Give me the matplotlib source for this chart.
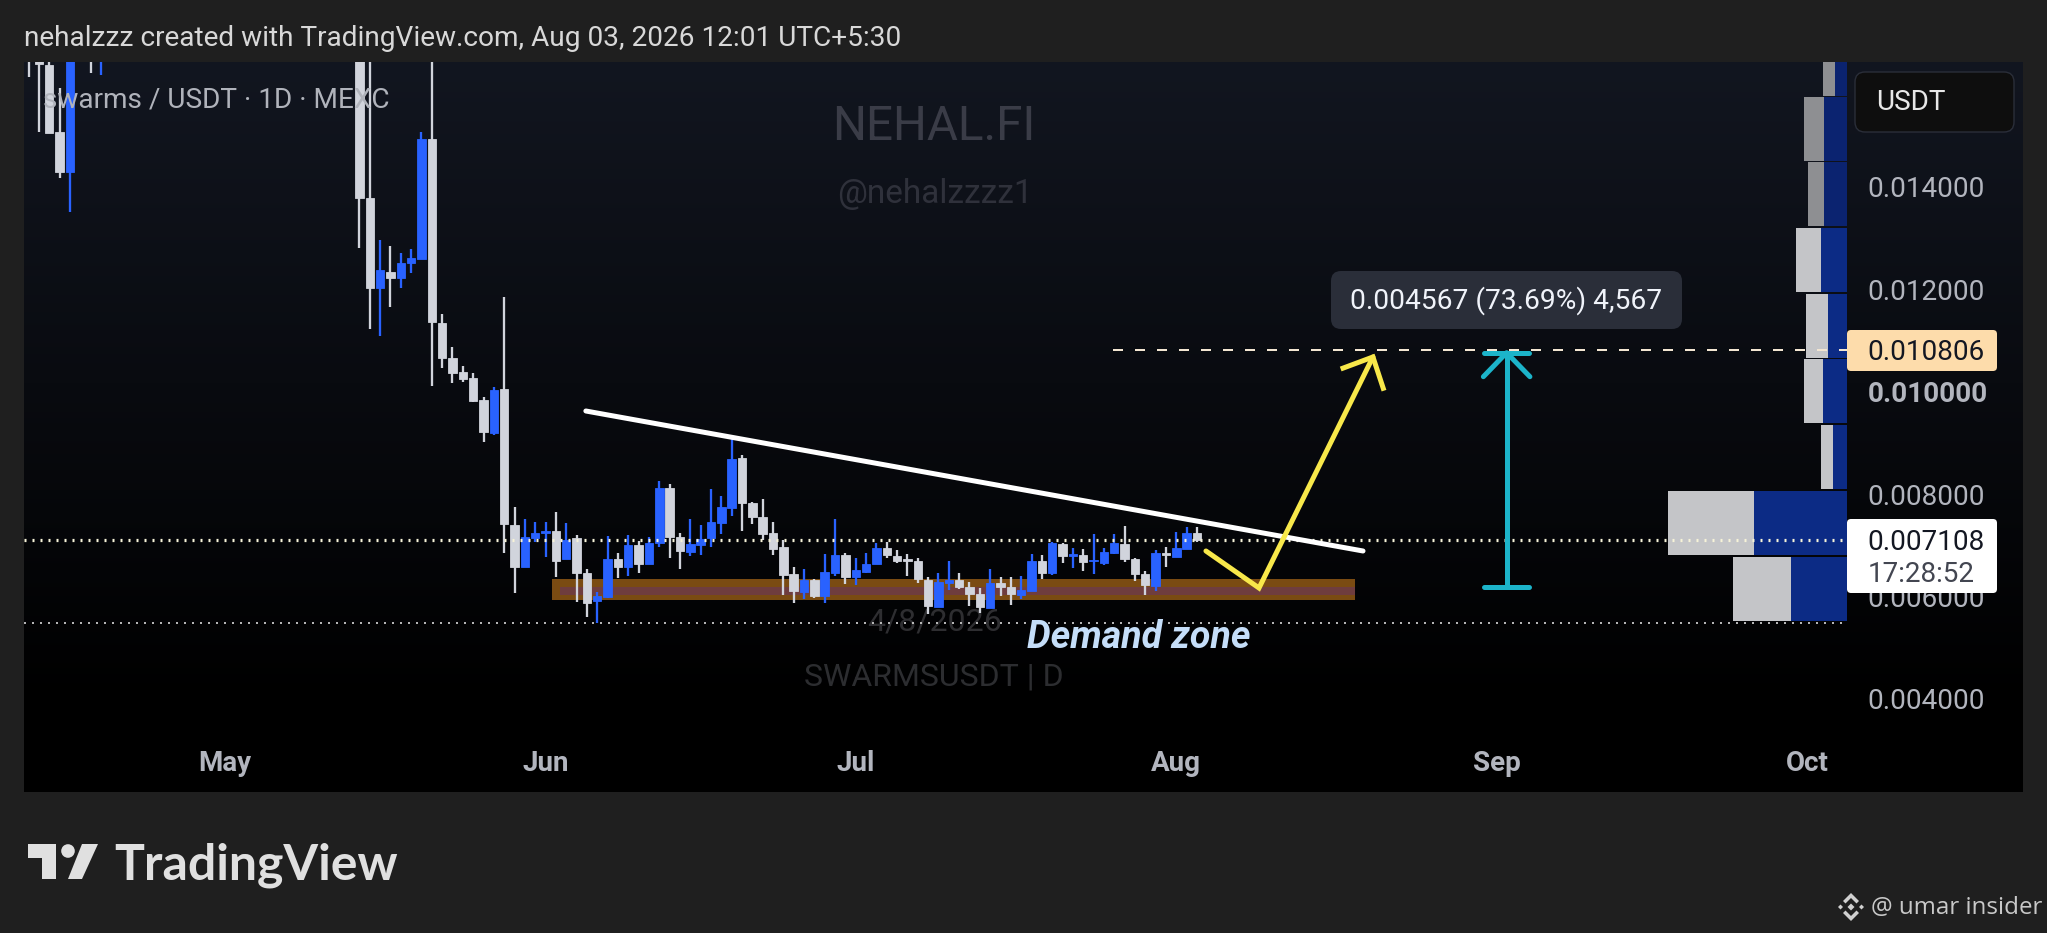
import numpy as np
import matplotlib
matplotlib.use("Agg")
import matplotlib.pyplot as plt
from matplotlib.patches import FancyBboxPatch, Polygon, Circle, Rectangle
from matplotlib.transforms import Affine2D

plt.rcParams['font.family'] = ['Roboto', 'DejaVu Sans']
plt.rcParams['lines.scale_dashes'] = False

# ---------- data (prices in millionths of a USDT, days counted from May 1) ----------
days = [-19, -18, -17, -16, -15, -13, -12] + list(range(13, 95))
opens = [18500, 17600, 16381, 15073, 14292, 19000, 18000,
         18000, 13784, 12026, 12339, 12222, 12515, 12593, 14936,
         11343, 10659, 10386, 10269, 9839, 9195, 10054, 7398, 6577, 7144,
         7241, 7280, 6733, 7144, 6460, 5913, 5992, 6733, 6577, 7007,
         6636, 7046, 8120, 7163, 6870, 7007, 7144, 7437, 7730, 8706,
         7827, 7554, 7241, 6968, 6441, 6089, 6323, 6011, 6460, 6812,
         6382, 6480, 6636, 6949, 6792, 6733, 6694, 6323, 5796, 6265,
         6323, 6187, 6050, 5777, 6265, 6187, 6031, 6109, 6694, 6460,
         7027, 6792, 6812, 6694, 6655, 6851, 7027, 6733, 6441, 6206,
         6851, 6773, 6929, 7241]
highs = [19000, 18500, 16800, 15932, 18000, 19500, 20000,
         19000, 17500, 12964, 12847, 12710, 12788, 15073, 18000,
         11519, 10874, 10503, 10366, 9898, 10093, 11851, 7749, 7515, 7456,
         7456, 7652, 7437, 7202, 6538, 6089, 7183, 6851, 7202, 7085,
         7163, 8257, 8198, 7241, 7515, 7398, 8101, 7964, 9136, 8765,
         7847, 7906, 7456, 7105, 6577, 6538, 6343, 6831, 7515, 6851,
         6753, 6851, 7046, 7066, 6909, 6831, 6753, 6382, 6460, 6694,
         6460, 6284, 6167, 6538, 6382, 6382, 6402, 6831, 6812, 7066,
         7046, 6949, 6929, 7222, 6949, 7222, 7378, 6753, 6499, 6909,
         6968, 7261, 7359, 7359]
lows = [16147, 15073, 15054, 14175, 13511, 16225, 16186,
        12807, 11226, 11089, 11655, 12026, 12319, 12593, 10112,
        10464, 10171, 10191, 9800, 9019, 9155, 6851, 6070, 6577, 7066,
        6773, 6382, 6733, 5894, 5601, 5484, 5972, 6363, 6402, 6460,
        6636, 6968, 6753, 6538, 6792, 6812, 6968, 7222, 7573, 7280,
        7417, 7105, 6812, 6031, 5874, 5953, 5972, 5874, 6402, 6245,
        6226, 6460, 6636, 6753, 6655, 6402, 6265, 5660, 5796, 6128,
        6148, 5816, 5679, 5777, 6011, 5835, 5953, 6109, 6343, 6421,
        6655, 6558, 6499, 6441, 6616, 6831, 6675, 6304, 6031, 6109,
        6577, 6773, 6929, 7066]
closes = [18000, 16401, 15054, 14292, 17200, 18000, 19000,
          13784, 12026, 12378, 12222, 12515, 12612, 14936, 11362,
          10659, 10366, 10249, 9819, 9214, 10034, 7417, 6577, 7163, 7241,
          7280, 6694, 7105, 6460, 5874, 6011, 6733, 6577, 7007, 6636,
          7046, 8120, 7163, 6890, 7027, 7124, 7456, 7749, 8687, 7827,
          7554, 7222, 6929, 6421, 6109, 6323, 6011, 6480, 6812, 6382,
          6519, 6636, 6949, 6812, 6694, 6694, 6343, 5816, 6284, 6323,
          6187, 6050, 5796, 6265, 6187, 6050, 6128, 6694, 6460, 7046,
          6792, 6831, 6675, 6714, 6870, 7046, 6733, 6441, 6226, 6851,
          6812, 6949, 7241, 7108]

vp_price_low = [5523, 6812, 8101, 9390, 10659, 11948, 13237, 14507, 15776]
vp_up = [56, 93, 14, 24, 19, 26, 23, 23, 12]
vp_down = [58, 86, 12, 19, 22, 25, 16, 20, 12]
vp_up_colors = ['#0c2b85'] * 6 + ['#0b2370'] * 3
vp_down_colors = ['#c4c5c8'] * 6 + ['#8e8f92'] * 3

last_price = 7108
low_price = 5484
target_price = 10806
price_ticks = [4000, 6000, 8000, 10000, 12000, 14000]
month_days = [0, 31, 61, 92, 123, 153]
month_labels = ['May', 'Jun', 'Jul', 'Aug', 'Sep', 'Oct']

trend_days = [34.9, 110.06]
trend_prices = [9624, 6890]
swing_days = [94.87, 100.0, 111.02]
swing_prices = [6890, 6167, 10679]
head_days = [107.9, 111.02, 112.09]
head_prices = [10444, 10679, 10021]
measure_day = 123.95
measure_prices = [6193, 10763]
measure_cap_days = [121.8, 126.1]
measure_head_days = [121.7, 123.95, 126.2]
measure_head_prices = [10294, 10763, 10294]
zone_days = [31.6, 109.3]
zone_prices = [5933, 6337]
zone_inner = [6031, 6193]
dash_start_day = 85.9

# ---------- layout ----------
W, H = 2047, 933
L, R, SPLIT, TOP, BOT = 24, 2023, 1847, 62, 792
PT = 0.72
TEXT_DY = 2
fig = plt.figure(figsize=(W / 100, H / 100), dpi=100, facecolor='#1f1f1f')
T = Affine2D().scale(1, -1).translate(0, H)


def box(x0, y0, x1, y1):
    return [x0 / W, 1 - y1 / H, (x1 - x0) / W, (y1 - y0) / H]


def px_text(x, y, s, **kw):
    kw.setdefault('va', 'center')
    dy = 0 if kw['va'] == 'baseline' else TEXT_DY
    return fig.text(x, y + dy, s, transform=T, **kw)


def frac(x, y):
    return (x - L) / (SPLIT - L), 1 - (y + TEXT_DY - TOP) / (BOT - TOP)


# background gradient pane
bg = fig.add_axes(box(L, TOP, R, BOT), zorder=0)
bg.axis('off')
g = np.clip(1 - np.linspace(0, 1, 256) / 0.88, 0, 1)[:, None, None]
top_rgb = np.array([0x12, 0x16, 0x20]) / 255
bg.imshow(g * top_rgb[None, None, :], aspect='auto', extent=(0, 1, 0, 1), interpolation='bilinear')

to_p = 1e-6
ymin, ymax = 2183 * to_p, 16440 * to_p
xmin = (L - 225) / 10.34
xmax = (SPLIT - 225) / 10.34

# volume profile
vp = fig.add_axes(box(1600, TOP, SPLIT, BOT), zorder=1)
vp.patch.set_alpha(0)
vp.axis('off')
vp.set_xlim(247, 0)
vp.set_ylim(ymin, ymax)
lows_vp = np.array(vp_price_low) * to_p
vp.barh(lows_vp, vp_up, height=1250 * to_p, align='edge', color=vp_up_colors, linewidth=0)
vp.barh(lows_vp, vp_down, left=vp_up, height=1250 * to_p, align='edge', color=vp_down_colors, linewidth=0)

# main axes
ax = fig.add_axes(box(L, TOP, SPLIT, BOT), zorder=2)
ax.patch.set_alpha(0)
for s in ax.spines.values():
    s.set_visible(False)
ax.set_xlim(xmin, xmax)
ax.set_ylim(ymin, ymax)

# watermarks
ax.text(*frac(934, 125), 'NEHAL.FI', transform=ax.transAxes, color='#3a3c47', fontsize=34.3,
        ha='center', va='center', zorder=0.5)
ax.text(*frac(935, 192), '@nehalzzzz1', transform=ax.transAxes, color='#2f313b', fontsize=24,
        ha='center', va='center', zorder=0.5)
ax.text(*frac(934.7, 620), '4/8/2026', transform=ax.transAxes, color='#2e2e31',
        fontsize=23, ha='center', va='center', zorder=0.5)
ax.text(*frac(934, 675), 'SWARMSUSDT | D', transform=ax.transAxes, color='#2c2d30',
        fontsize=23, ha='center', va='center', zorder=0.5)

# demand zone
ax.add_patch(Rectangle((zone_days[0], zone_prices[0] * to_p), zone_days[1] - zone_days[0],
                       (zone_prices[1] - zone_prices[0]) * to_p, color='#7a4b12', lw=0, zorder=1))
ax.add_patch(Rectangle((zone_days[0] + 0.8, zone_inner[0] * to_p), zone_days[1] - zone_days[0] - 0.8,
                       (zone_inner[1] - zone_inner[0]) * to_p, color='#6f3d3e', lw=0, zorder=1.1))

# candles
d = np.array(days, dtype=float)
o, h, l, c = [np.array(a) * to_p for a in (opens, highs, lows, closes)]
cols = np.where(c >= o, '#2962ff', '#d1d4dc')
ax.vlines(d, l, h, colors=cols, linewidth=2.3 * PT, zorder=3, capstyle='butt')
ax.bar(d, np.abs(c - o), bottom=np.minimum(o, c), width=0.82, color=cols, edgecolor=cols,
       linewidth=0.6, zorder=3.1)

# horizontal price lines
ax.axhline(low_price * to_p, color='#c9c9c9', lw=1.8 * PT, ls=(0, (2 * PT, 6 * PT)), zorder=2)
ax.axhline(last_price * to_p, color='#f7f3d8', lw=3.2 * PT, ls=(0, (2 * PT, 6 * PT)), zorder=4)
ax.plot([dash_start_day, xmax], [target_price * to_p] * 2, color='#f3e6d2', lw=2 * PT,
        ls=(0, (10 * PT, 12 * PT)), zorder=4)

# drawings
ax.plot(trend_days, np.array(trend_prices) * to_p, color='#ffffff', lw=5 * PT, solid_capstyle='round', zorder=5)
yel = '#f8e84a'
ax.plot(swing_days, np.array(swing_prices) * to_p, color=yel, lw=5 * PT, solid_capstyle='round',
        solid_joinstyle='miter', zorder=6)
ax.plot(head_days, np.array(head_prices) * to_p, color=yel, lw=5 * PT, solid_capstyle='butt',
        solid_joinstyle='miter', zorder=6)
cy = '#1cb4ca'
ax.plot([measure_day] * 2, np.array(measure_prices) * to_p, color=cy, lw=5 * PT, zorder=6, solid_capstyle='butt')
for pr in measure_prices:
    ax.plot(measure_cap_days, [pr * to_p] * 2, color=cy, lw=5 * PT, solid_capstyle='round', zorder=6)
ax.plot(measure_head_days, np.array(measure_head_prices) * to_p, color=cy, lw=5 * PT,
        solid_capstyle='round', zorder=6)

# axes ticks
ax.yaxis.tick_right()
ax.set_yticks(np.array(price_ticks) * to_p)
ax.set_yticklabels(['%.6f' % (v * to_p) for v in price_ticks], color='#b2b5be', fontsize=20.1)
ax.tick_params(axis='y', length=0, pad=20.7 * PT)
ax.get_yticklabels()[3].set_fontweight('bold')
ax.set_xticks(month_days)
ax.set_xticklabels(month_labels, color='#b2b5be', fontsize=20, fontweight='bold')
ax.tick_params(axis='x', length=0, pad=-42 * PT)

# on-chart text
ax.text(*frac(43, 98), 'swarms / USDT \u00b7 1D \u00b7 MEXC',
        transform=ax.transAxes, color='#b0b3bb', fontsize=20.15, va='center', zorder=8)
ax.text(*frac(1138.5, 636), 'Demand zone', transform=ax.transAxes,
        color='#c5def9', fontsize=27, fontweight='bold', fontstyle='italic', ha='center', va='center', zorder=8)

# measure label
fig.add_artist(FancyBboxPatch((1339, 279), 335, 42, boxstyle='round,pad=8,rounding_size=10',
                              transform=T, fc='#2a2e39', ec='none', zorder=5))
px_text(1506, 299, '0.004567 (73.69%) 4,567', color='#f0f3fa', fontsize=20.25, ha='center', zorder=6)

# price scale tags and currency box
fig.add_artist(FancyBboxPatch((1849, 332), 146, 37, boxstyle='round,pad=2,rounding_size=4',
                              transform=T, fc='#fddcab', ec='none', zorder=5))
px_text(1867.7, 350, '0.010806', color='#131722', fontsize=20.1, zorder=6)
fig.add_artist(FancyBboxPatch((1849, 521), 146, 70, boxstyle='round,pad=2,rounding_size=4',
                              transform=T, fc='#ffffff', ec='none', zorder=5))
px_text(1867.7, 540, '0.007108', color='#131722', fontsize=20.1, zorder=6)
px_text(1867.7, 573, '17:28:52', color='#434651', fontsize=20.1, zorder=6)
fig.add_artist(FancyBboxPatch((1865, 82), 139, 40, boxstyle='round,pad=10,rounding_size=10',
                              transform=T, fc='#0e0e0e', ec='#2a2e39', lw=1, zorder=5))
px_text(1876, 100.5, 'USDT', color='#e8e8e8', fontsize=20.1, zorder=6)

# header and footer
px_text(24, 36.5, 'nehalzzz created with TradingView.com, Aug 03, 2026 12:01 UTC+5:30',
        color='#d8d8d8', fontsize=20.15)
logo = '#e0e0e0'
fig.add_artist(Polygon([(28, 844), (56, 844), (56, 879), (42, 879), (42, 858), (28, 858)],
                       transform=T, fc=logo, ec='none'))
fig.add_artist(Circle((68, 851), 6.8, transform=T, fc=logo, ec='none'))
fig.add_artist(Polygon([(82, 844), (98, 844), (82, 879), (68, 879)], transform=T, fc=logo, ec='none'))
px_text(114, 879, 'TradingView', color=logo, fontsize=36, fontweight='bold', va='baseline',
        family=['Lato', 'DejaVu Sans'])
px_text(1871, 906, '@ umar insider', color='#c8c8c8', fontsize=17.4, family=['Open Sans', 'DejaVu Sans'])
ic = '#d0d0d0'
cx, cy_ = 1851, 907
for pts in ([(0, -3.5), (3.5, 0), (0, 3.5), (-3.5, 0)],
            [(-13, 0), (-10.5, -2.5), (-8, 0), (-10.5, 2.5)],
            [(13, 0), (10.5, -2.5), (8, 0), (10.5, 2.5)],
            [(0, -14), (8, -6), (5.5, -3.5), (0, -9), (-5.5, -3.5), (-8, -6)],
            [(0, 14), (8, 6), (5.5, 3.5), (0, 9), (-5.5, 3.5), (-8, 6)]):
    fig.add_artist(Polygon([(cx + a, cy_ + b) for a, b in pts], transform=T, fc=ic, ec='none'))

fig.savefig('out.png', dpi=100, facecolor=fig.get_facecolor())
